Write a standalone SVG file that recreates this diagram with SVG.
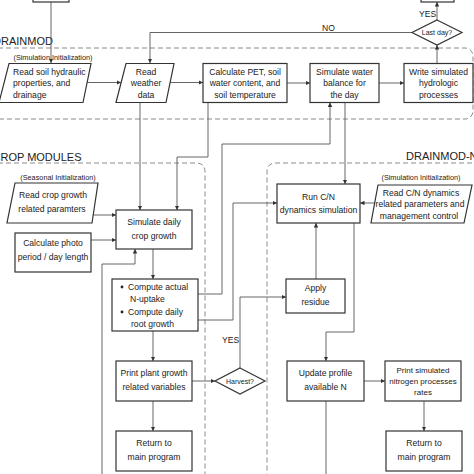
<svg xmlns="http://www.w3.org/2000/svg" width="474" height="474" viewBox="0 0 474 474">
<defs>
<marker id="ah" viewBox="0 0 6 6" refX="6" refY="3" markerWidth="4.5" markerHeight="4.5" orient="auto" markerUnits="userSpaceOnUse">
<path d="M0,0 L6,3 L0,6 z" fill="#333"/>
</marker>
<style>
.bx{fill:#fff;stroke:#333;stroke-width:1.2}
.cn{fill:none;stroke:#555;stroke-width:0.9}
.ar{marker-end:url(#ah)}
.ds{fill:none;stroke:#8a8a8a;stroke-width:1;stroke-dasharray:5,3}
text{font-family:"Liberation Sans",Arial,sans-serif;fill:#222}
.t{font-size:8.6px;text-anchor:middle}
.tl{font-size:8.6px}
.s{font-size:7.3px;text-anchor:middle}
.h{font-size:11px}
</style>
</defs>
<rect width="474" height="474" fill="#fff"/>
<g id="sections">
<rect class="ds" x="-10" y="48" width="483" height="71" rx="8"/>
<path class="ds" d="M-10,163 H196 Q205,163 205,172 V480"/>
<path class="ds" d="M480,163 H276 Q267,163 267,172 V480"/>
<text class="h" x="-7" y="45">DRAINMOD</text>
<text class="h" x="-7.5" y="161">CROP MODULES</text>
<text class="h" x="406" y="160">DRAINMOD-N</text>
<text class="s" x="53" y="60">(Simulation Initialization)</text>
<text class="s" x="58" y="180">(Seasonal Initialization)</text>
<text class="s" x="421" y="180">(Simulation Initialization)</text>
</g>
<g id="connectors">
<path class="cn ar" d="M51,2 V63"/>
<path class="cn ar" d="M87,82.5 H121"/>
<path class="cn ar" d="M170,82.5 H203"/>
<path class="cn ar" d="M287,83 H310"/>
<path class="cn ar" d="M379,83 H404"/>
<path class="cn ar" d="M437,63.5 V45"/>
<path class="cn ar" d="M437,20 V2"/>
<path class="cn ar" d="M412,32.5 H150 V63"/>
<path class="cn ar" d="M140,102.5 V210"/>
<path class="cn ar" d="M208,102.5 V157 H177 V210"/>
<path class="cn ar" d="M198,294 H222 V144 H330 V102.5"/>
<path class="cn ar" d="M198,320 H233 V203 H277"/>
<path class="cn ar" d="M345,102.5 V184"/>
<path class="cn ar" d="M375,203 H360"/>
<path class="cn ar" d="M316,279 V223"/>
<path class="cn ar" d="M354,223 V332 H326 V361"/>
<path class="cn ar" d="M240,368 V297 H286"/>
<path class="cn ar" d="M192,381 H215"/>
<path class="cn ar" d="M153,249 V279"/>
<path class="cn ar" d="M153,331 V361"/>
<path class="cn ar" d="M153,401 V431"/>
<path class="cn ar" d="M93,215 H116"/>
<path class="cn ar" d="M91,240 H116"/>
<path class="cn ar" d="M102,480 V264 H135 V249"/>
<path class="cn" d="M326,401 V480"/>
<path class="cn ar" d="M364,381 H385"/>
<path class="cn ar" d="M424,401 V431"/>
<text class="tl" x="322" y="30.5">NO</text>
<text class="tl" x="419" y="17">YES</text>
<text class="tl" x="222" y="343">YES</text>
</g>
<g id="start-left"><rect class="bx" x="33" y="-20" width="36" height="22"/></g>
<g id="start-right"><rect class="bx" x="421" y="-20" width="33" height="22"/></g>
<g id="read-soil">
<polygon class="bx" points="9,63.5 91,63.5 83,102.5 -1,102.5"/>
<text class="tl" x="13" y="75">Read soil hydraulic</text>
<text class="tl" x="13" y="86">properties, and</text>
<text class="tl" x="13" y="97.5">drainage</text>
</g>
<g id="read-weather">
<polygon class="bx" points="126,63.5 174,63.5 166,102.5 116,102.5"/>
<text class="t" x="146" y="75">Read</text>
<text class="t" x="146" y="86">weather</text>
<text class="t" x="146" y="97.5">data</text>
</g>
<g id="calc-pet">
<rect class="bx" x="203" y="63.5" width="84" height="39"/>
<text class="t" x="245" y="75">Calculate PET, soil</text>
<text class="t" x="245" y="86">water content, and</text>
<text class="t" x="245" y="97.5">soil temperature</text>
</g>
<g id="water-balance">
<rect class="bx" x="310" y="63.5" width="69" height="39"/>
<text class="t" x="344.5" y="75">Simulate water</text>
<text class="t" x="344.5" y="86">balance for</text>
<text class="t" x="344.5" y="97.5">the day</text>
</g>
<g id="write-hydro">
<rect class="bx" x="404" y="63.5" width="69" height="39"/>
<text class="t" x="438.5" y="75">Write simulated</text>
<text class="t" x="438.5" y="86">hydrologic</text>
<text class="t" x="438.5" y="97.5">processes</text>
</g>
<g id="last-day">
<polygon class="bx" points="437,20 462,32.5 437,45 412,32.5"/>
<text class="s" x="437" y="35" style="font-size:7px">Last day?</text>
</g>
<g id="read-crop">
<polygon class="bx" points="15,183 98,183 92,223 7,223"/>
<text class="t" x="53" y="198">Read crop growth</text>
<text class="t" x="52" y="212">related paramters</text>
</g>
<g id="photo">
<rect class="bx" x="15" y="233" width="76" height="39"/>
<text class="t" x="53" y="246">Calculate photo</text>
<text class="t" x="53" y="260">period / day length</text>
</g>
<g id="crop-growth">
<rect class="bx" x="116" y="210" width="76" height="39"/>
<text class="t" x="154" y="225">Simulate daily</text>
<text class="t" x="154" y="239">crop growth</text>
</g>
<g id="compute">
<rect class="bx" x="112" y="279" width="86" height="52"/>
<circle cx="122" cy="287" r="1.4" fill="#222"/>
<circle cx="122" cy="312" r="1.4" fill="#222"/>
<text class="tl" x="128" y="290">Compute actual</text>
<text class="tl" x="130" y="302">N-uptake</text>
<text class="tl" x="128" y="315">Compute daily</text>
<text class="tl" x="131" y="326.5">root growth</text>
</g>
<g id="print-plant">
<rect class="bx" x="116" y="361" width="76" height="40"/>
<text class="t" x="154" y="376">Print plant growth</text>
<text class="t" x="154" y="390">related variables</text>
</g>
<g id="harvest">
<polygon class="bx" points="240,368 265,381 240,394 215,381"/>
<text class="s" x="240" y="383.5" style="font-size:7px">Harvest?</text>
</g>
<g id="return-left">
<rect class="bx" x="116" y="431" width="76" height="40"/>
<text class="t" x="154" y="446">Return to</text>
<text class="t" x="154" y="460">main program</text>
</g>
<g id="run-cn">
<rect class="bx" x="277" y="184" width="83" height="39"/>
<text class="t" x="318.5" y="200">Run C/N</text>
<text class="t" x="318.5" y="213">dynamics simulation</text>
</g>
<g id="read-cn">
<polygon class="bx" points="378,185 472,185 464,223 371,223"/>
<text class="t" x="421" y="196">Read C/N dynamics</text>
<text class="t" x="420" y="206.5">related parameters and</text>
<text class="t" x="419" y="219">management control</text>
</g>
<g id="apply-residue">
<rect class="bx" x="286" y="279" width="59" height="34"/>
<text class="t" x="315.5" y="291">Apply</text>
<text class="t" x="315.5" y="305">residue</text>
</g>
<g id="update-profile">
<rect class="bx" x="287" y="361" width="77" height="40"/>
<text class="t" x="325.5" y="376">Update profile</text>
<text class="t" x="325.5" y="390">available N</text>
</g>
<g id="print-n">
<rect class="bx" x="385" y="361" width="76" height="40"/>
<text class="t" x="423" y="373" style="font-size:8px">Print simulated</text>
<text class="t" x="423" y="384" style="font-size:8px">nitrogen processes</text>
<text class="t" x="423" y="394.5" style="font-size:8px">rates</text>
</g>
<g id="return-right">
<rect class="bx" x="386" y="431" width="76" height="40"/>
<text class="t" x="424" y="446">Return to</text>
<text class="t" x="424" y="460">main program</text>
</g>
</svg>
